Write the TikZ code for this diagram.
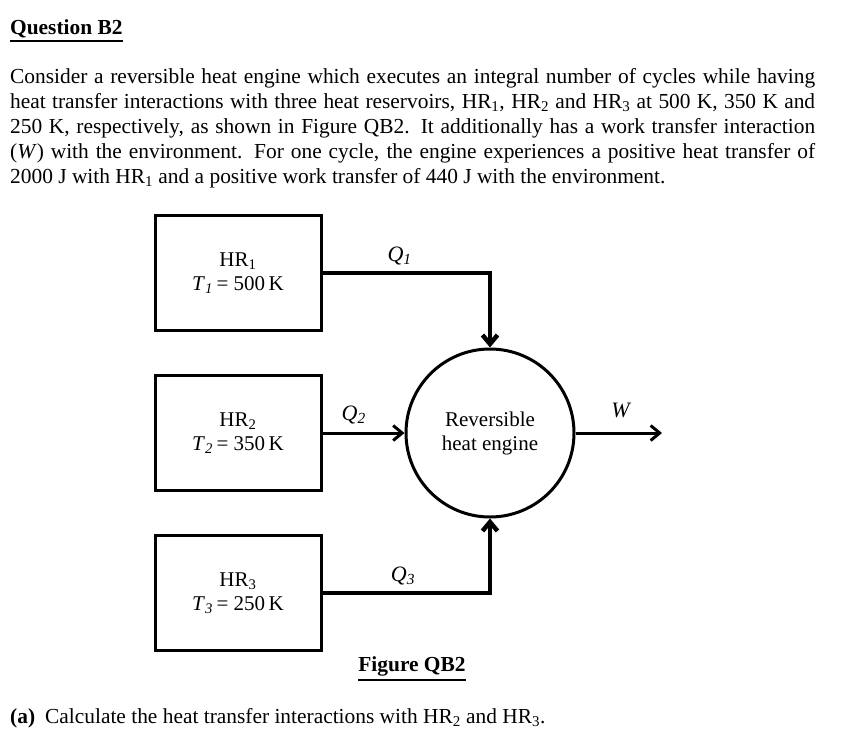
\documentclass[tikz,border=0pt]{standalone}
\usepackage{fontspec}
\setmainfont{Liberation Serif}
\usetikzlibrary{arrows.meta,positioning}
\newcommand{\thickul}[1]{\leavevmode\vtop{\hbox{#1}\kern2pt\hrule height 2.2pt}}

\begin{document}
\begin{tikzpicture}[
  x=1pt, y=-1pt,
  node distance=42pt,
  txt/.style={inner sep=0pt, font=\fontsize{21.4}{25}\selectfont},
  box/.style={draw, line width=3pt, minimum width=166pt, minimum height=115pt,
              align=center, font=\fontsize{21}{24}\selectfont},
  engine/.style={draw, circle, line width=3pt, minimum size=168pt, inner sep=0pt,
                 align=center, font=\fontsize{21}{24}\selectfont},
  arrow/.style={-{Straight Barb[length=9pt,width=15pt]}, line width=3pt},
  heavy/.style={arrow, line width=4.5pt},
  qlab/.style={font=\fontsize{22}{22}\selectfont\itshape}
]
\useasboundingbox (0,0) rectangle (854,742);

% question text
\node[txt, anchor=north west, font=\fontsize{21.4}{25}\selectfont\bfseries] (title) at (10,19)
  {\thickul{Question B2}};
\node[txt, anchor=north west, text width=805pt, align=justify] (intro) at (10,68)
  {Consider a reversible heat engine which executes an integral number of cycles while having\linebreak
   heat transfer interactions with three heat reservoirs, HR\textsubscript{1}, HR\textsubscript{2} and HR\textsubscript{3} at 500~K, 350~K and\linebreak
   250~K, respectively, as shown in Figure QB2. It additionally has a work transfer interaction\linebreak
   (\textit{W}) with the environment. For one cycle, the engine experiences a positive heat transfer of\linebreak
   2000~J with HR\textsubscript{1} and a positive work transfer of 440~J with the environment.};

% reservoirs and engine
\node[box] (hr2) at (238,433) {HR\textsubscript{2}\\ \textit{T}\textsubscript{\textit{2}}\,= 350\,K};
\node[box] (hr1) [above=of hr2] {HR\textsubscript{1}\\ \textit{T}\textsubscript{\textit{1}}\,= 500\,K};
\node[box] (hr3) [below=of hr2] {HR\textsubscript{3}\\ \textit{T}\textsubscript{\textit{3}}\,= 250\,K};
\node[engine] (eng) at (490,433) {Reversible\\ heat engine};
\coordinate (wout) at (662,433);

\draw[heavy] (hr1.east) -| node[qlab, above=2pt, pos=0.23]{Q\textsubscript{1}} (eng.north);
\draw[arrow] (hr2.east) -- node[qlab, above=4pt, pos=0.38]{Q\textsubscript{2}} (eng.west);
\draw[heavy] (hr3.east) -| node[qlab, above=2pt, pos=0.24]{Q\textsubscript{3}} (eng.south);
\draw[arrow] (eng.east) -- node[qlab, above=10pt, pos=0.52]{W} (wout);

% caption and part (a)
\node[txt, font=\fontsize{21.4}{25}\selectfont\bfseries] (caption) at (412,669) {\thickul{Figure QB2}};
\node[txt, anchor=west] (parta) at (10,718)
  {\textbf{(a)}\hspace{10pt}Calculate the heat transfer interactions with HR\textsubscript{2} and HR\textsubscript{3}.};
\end{tikzpicture}
\end{document}
